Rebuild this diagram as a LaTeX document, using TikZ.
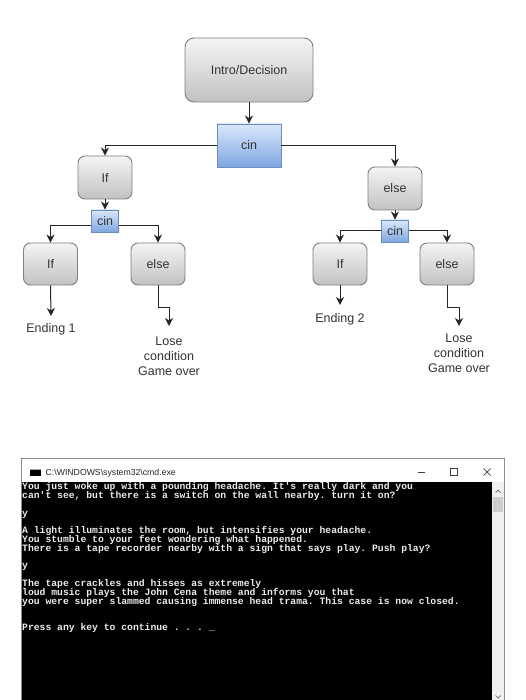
\documentclass[tikz,border=0pt]{standalone}
\usepackage{fontspec}
\setmainfont{Liberation Sans}
\newfontfamily\cons{Liberation Mono}
\usetikzlibrary{arrows.meta}
\definecolor{boxtop}{HTML}{F4F4F4}
\definecolor{boxbot}{HTML}{C2C2C2}
\definecolor{boxline}{HTML}{7F7F7F}
\definecolor{bluetop}{HTML}{DAE8FC}
\definecolor{bluebot}{HTML}{7EA6E0}
\definecolor{blueline}{HTML}{6C8EBF}
\definecolor{txt}{HTML}{333333}
\definecolor{scrollbg}{HTML}{F0F0F0}
\definecolor{thumb}{HTML}{CDCDCD}
\tikzset{
  graybox/.style={draw=boxline, line width=0.9pt, rounded corners=7pt,
    top color=boxtop, bottom color=boxbot, minimum width=54pt, minimum height=42pt,
    inner sep=0pt, font=\fontsize{12.5}{14}\selectfont, text=txt},
  cinbox/.style={draw=blueline, line width=0.9pt, top color=bluetop, bottom color=bluebot,
    inner sep=0pt, font=\fontsize{12.5}{14}\selectfont, text=txt},
  conn/.style={draw=black!85, line width=1pt, -{Stealth[length=8pt,width=8pt,inset=2.5pt]}},
  lbl/.style={font=\fontsize{12.5}{15}\selectfont, text=txt, align=center, inner sep=0pt},
  ctext/.style={anchor=base west, text=white!92!black, inner sep=0pt,
    font=\cons\bfseries\fontsize{9.72}{8.8}\selectfont},
  winbtn/.style={draw=black!75, line width=0.7pt},
}
\frenchspacing
\begin{document}
\begin{tikzpicture}[x=1pt, y=-1pt]
\useasboundingbox (0,0) rectangle (525,700);
\fill[white] (0,0) rectangle (525,700);

% ---------- diagram ----------
\node[graybox, minimum width=128pt, minimum height=64pt, rounded corners=9pt] (intro) at (249,70) {Intro/Decision};
\node[cinbox, minimum width=64pt, minimum height=43pt] (cin0) at (249,145.5) {cin};
\node[graybox, minimum height=43pt] (ifA) at (105,177.5) {If};
\node[graybox, minimum height=43pt] (elseA) at (395,188.5) {else};
\node[cinbox, minimum width=27pt, minimum height=22pt] (cinL) at (105,221) {cin};
\node[cinbox, minimum width=27pt, minimum height=22pt] (cinR) at (395,231) {cin};
\node[graybox] (ifL) at (50.5,264) {If};
\node[graybox] (elseL) at (158,264) {else};
\node[graybox] (ifR) at (340,264) {If};
\node[graybox] (elseR) at (447,264) {else};

\node[lbl] (end1) at (51,329) {Ending 1};
\node[lbl] (lose1) at (169,356) {Lose\\condition\\Game over};
\node[lbl] (end2) at (340,319) {Ending 2};
\node[lbl] (lose2) at (459,353) {Lose\\condition\\Game over};

\coordinate (e1) at (51,316);
\coordinate (e2) at (340,305);
\coordinate (l1) at (169,326);
\coordinate (l2) at (459,326);

\draw[conn] (intro) -- (cin0);
\draw[conn] (cin0.west) -| (ifA.north);
\draw[conn] (cin0.east) -| (elseA.north);
\draw[conn] (ifA) -- (cinL);
\draw[conn] (elseA) -- (cinR);
\draw[conn] ([yshift=-4.5pt]cinL.west) -| (ifL.north);
\draw[conn] ([yshift=-4.5pt]cinL.east) -| (elseL.north);
\draw[conn] (cinR.west) -| (ifR.north);
\draw[conn] (cinR.east) -| (elseR.north);
\draw[conn] (ifL.south) -- (e1);
\draw[conn] (ifR.south) -- (e2);
\draw[conn] (elseL.south) -- ++(0,22) -| (l1);
\draw[conn] (elseR.south) -- ++(0,22) -| (l2);

% ---------- console window ----------
\draw[draw=black!45, fill=white, line width=0.8pt] (21,458) rectangle (504,705);
\fill[black] (21.5,482) rectangle (492,700);
\fill[scrollbg] (492,482) rectangle (503.5,700);
\fill[thumb] (493,497) rectangle (503,512);
\draw[black!60, line width=0.7pt] (495.5,492.5) -- (498,490) -- (500.5,492.5);
\draw[black!60, line width=0.7pt] (495.5,695.5) -- (498,698) -- (500.5,695.5);

% icon
\fill[black] (30,468.5) rectangle (41,476);
\fill[black!35] (30,468.5) rectangle (41,470.3);
\node[anchor=west, inner sep=0pt, font=\fontsize{8.7}{10}\selectfont, text=black!85] (title) at (45.5,473)
  {C:\textbackslash WINDOWS\textbackslash system32\textbackslash cmd.exe};
\draw[winbtn] (417.5,472) -- (424.5,472);
\draw[winbtn] (450,468) rectangle (457,475);
\draw[winbtn] (483.5,468.5) -- (490.5,475.5) (483.5,475.5) -- (490.5,468.5);

\node[ctext] (c1) at (22,489.6) {You just woke up with a pounding headache. It's really dark and you};
\node[ctext] (c2) at (22,498.4) {can't see, but there is a switch on the wall nearby. turn it on?};
\node[ctext] (c3) at (22,516.0) {y};
\node[ctext] (c4) at (22,533.6) {A light illuminates the room, but intensifies your headache.};
\node[ctext] (c5) at (22,542.4) {You stumble to your feet wondering what happened.};
\node[ctext] (c6) at (22,551.2) {There is a tape recorder nearby with a sign that says play. Push play?};
\node[ctext] (c7) at (22,568.8) {y};
\node[ctext] (c8) at (22,586.4) {The tape crackles and hisses as extremely};
\node[ctext] (c9) at (22,595.2) {loud music plays the John Cena theme and informs you that};
\node[ctext] (c10) at (22,604.0) {you were super slammed causing immense head trama. This case is now closed.};
\node[ctext] (c11) at (22,630.4) {Press any key to continue . . . \_};
\end{tikzpicture}
\end{document}
